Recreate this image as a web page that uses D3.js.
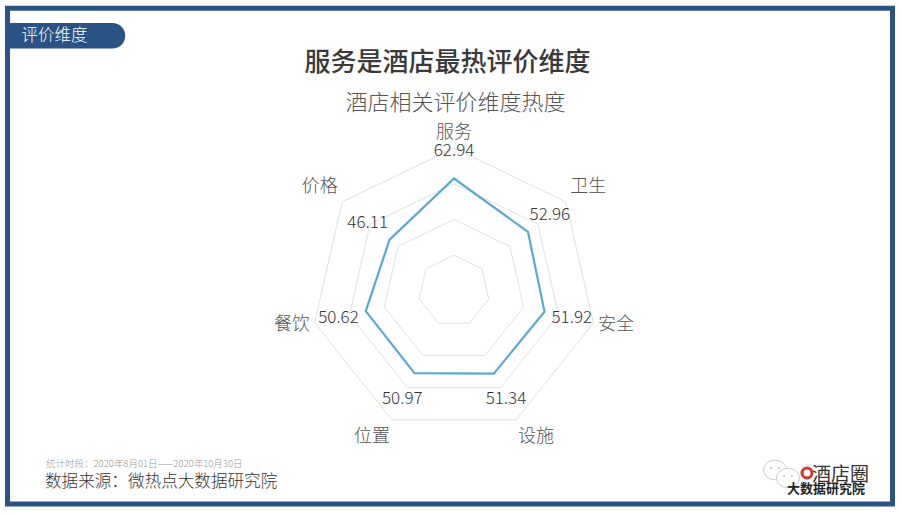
<!DOCTYPE html>
<html><head><meta charset="utf-8">
<script src="https://cdn.jsdelivr.net/npm/d3@7"></script>
<style>html,body{margin:0;padding:0;background:#fff}svg{display:block}text{font-family:"Noto Sans CJK SC","Noto Sans",sans-serif}</style>
</head><body><svg id="c" width="901" height="515"></svg>
<script>
const categories=["服务","卫生","安全","设施","位置","餐饮","价格"];
const values=[62.94,52.96,51.92,51.34,50.97,50.62,46.11];
const ringTicks=[20,40,60,80];
const badgeText="评价维度";
const titleText="服务是酒店最热评价维度";
const subtitleText="酒店相关评价维度热度";
const periodText="统计时段：2020年8月01日——2020年10月30日";
const sourceText="数据来源：微热点大数据研究院";

const cx=454,cy=291,navy="#285384";
const svg=d3.select("#c");
svg.append("rect").attr("x",7.5).attr("y",8.25).attr("width",885).attr("height",495.75)
  .attr("fill","#fff").attr("stroke",navy).attr("stroke-width",5);
svg.append("path").attr("fill",navy).attr("d","M10,23H112.5A12.5,12.5 0 0 1 112.5,48.5H10Z");
svg.append("text").attr("x",21.5).attr("y",41).attr("font-size",16.5).attr("font-weight",300).attr("fill","#fff").text(badgeText);
svg.append("text").attr("x",447.5).attr("y",71).attr("text-anchor","middle").attr("font-size",26)
  .attr("font-weight",500).attr("fill","#3a3a3a").text(titleText);
svg.append("text").attr("x",455.5).attr("y",110).attr("text-anchor","middle").attr("font-size",22)
  .attr("font-weight",300).attr("fill","#555").text(subtitleText);

const r=d3.scaleLinear().domain([0,80]).range([0,143]);
const angle=d3.scalePoint().domain(categories).range([0,2*Math.PI*(1-1/categories.length)]);
const radial=d3.lineRadial().curve(d3.curveLinearClosed);
const g=svg.append("g").attr("transform",`translate(${cx},${cy})`);
g.selectAll("path.ring").data(ringTicks).join("path").attr("class","ring")
  .attr("d",t=>radial(categories.map(c=>[angle(c),r(t)])))
  .attr("fill","none").attr("stroke","#e0e0e0").attr("stroke-width",1);
g.append("path").attr("d",radial(categories.map((c,i)=>[angle(c),r(values[i])])))
  .attr("fill","none").attr("stroke","#5aa9d2").attr("stroke-width",2.2);
const px=(c,d)=>Math.sin(angle(c))*d, py=(c,d)=>-Math.cos(angle(c))*d;
g.selectAll("text.val").data(categories).join("text").attr("class","val")
  .attr("x",(c,i)=>px(c,r(values[i])+28)).attr("y",(c,i)=>py(c,r(values[i])+28))
  .attr("dy","0.32em").attr("text-anchor","middle").attr("font-size",17).attr("font-weight",300).attr("fill","#333")
  .text((c,i)=>values[i].toFixed(2));
const nudgeX=c=>{const s=Math.sin(angle(c)),k=Math.cos(angle(c));return Math.abs(s)<.01?0:Math.sign(s)*(k<-.5?20:22.5);};
const nudgeY=c=>{const k=Math.cos(angle(c));return Math.abs(k)<.5?1:-Math.sign(k)*16;};
g.selectAll("text.cat").data(categories).join("text").attr("class","cat")
  .attr("x",c=>px(c,r(80))+nudgeX(c)).attr("y",c=>py(c,r(80))+nudgeY(c))
  .attr("dy","0.34em").attr("text-anchor","middle").attr("font-size",18).attr("font-weight",300).attr("fill","#555").text(c=>c);

svg.append("text").attr("x",46).attr("y",467).attr("font-size",9.5).attr("font-weight",300).attr("fill","#999").text(periodText);
svg.append("text").attr("x",45).attr("y",487).attr("font-size",16.6).attr("font-weight",300).attr("fill","#333").text(sourceText);

// logo
const logo=svg.append("g");
[[775,470,11.5],[788,478,11.5]].forEach(b=>{
  logo.append("ellipse").attr("cx",b[0]).attr("cy",b[1]).attr("rx",b[2]).attr("ry",b[2]*.85)
    .attr("fill","#fff").attr("stroke","#ccc").attr("stroke-width",1);
  [-4,4].forEach(d=>logo.append("circle").attr("cx",b[0]+d).attr("cy",b[1]-2).attr("r",1).attr("fill","#bbb"));
});
logo.append("circle").attr("cx",807).attr("cy",473).attr("r",5).attr("fill","none").attr("stroke","#d9342b").attr("stroke-width",3);
logo.append("text").attr("x",787).attr("y",493).attr("font-size",13).attr("font-weight",700).attr("fill","#222").text("大数据研究院");
logo.append("text").attr("x",812).attr("y",481).attr("font-size",19).attr("fill","#333").text("酒店圈");
</script></body></html>
